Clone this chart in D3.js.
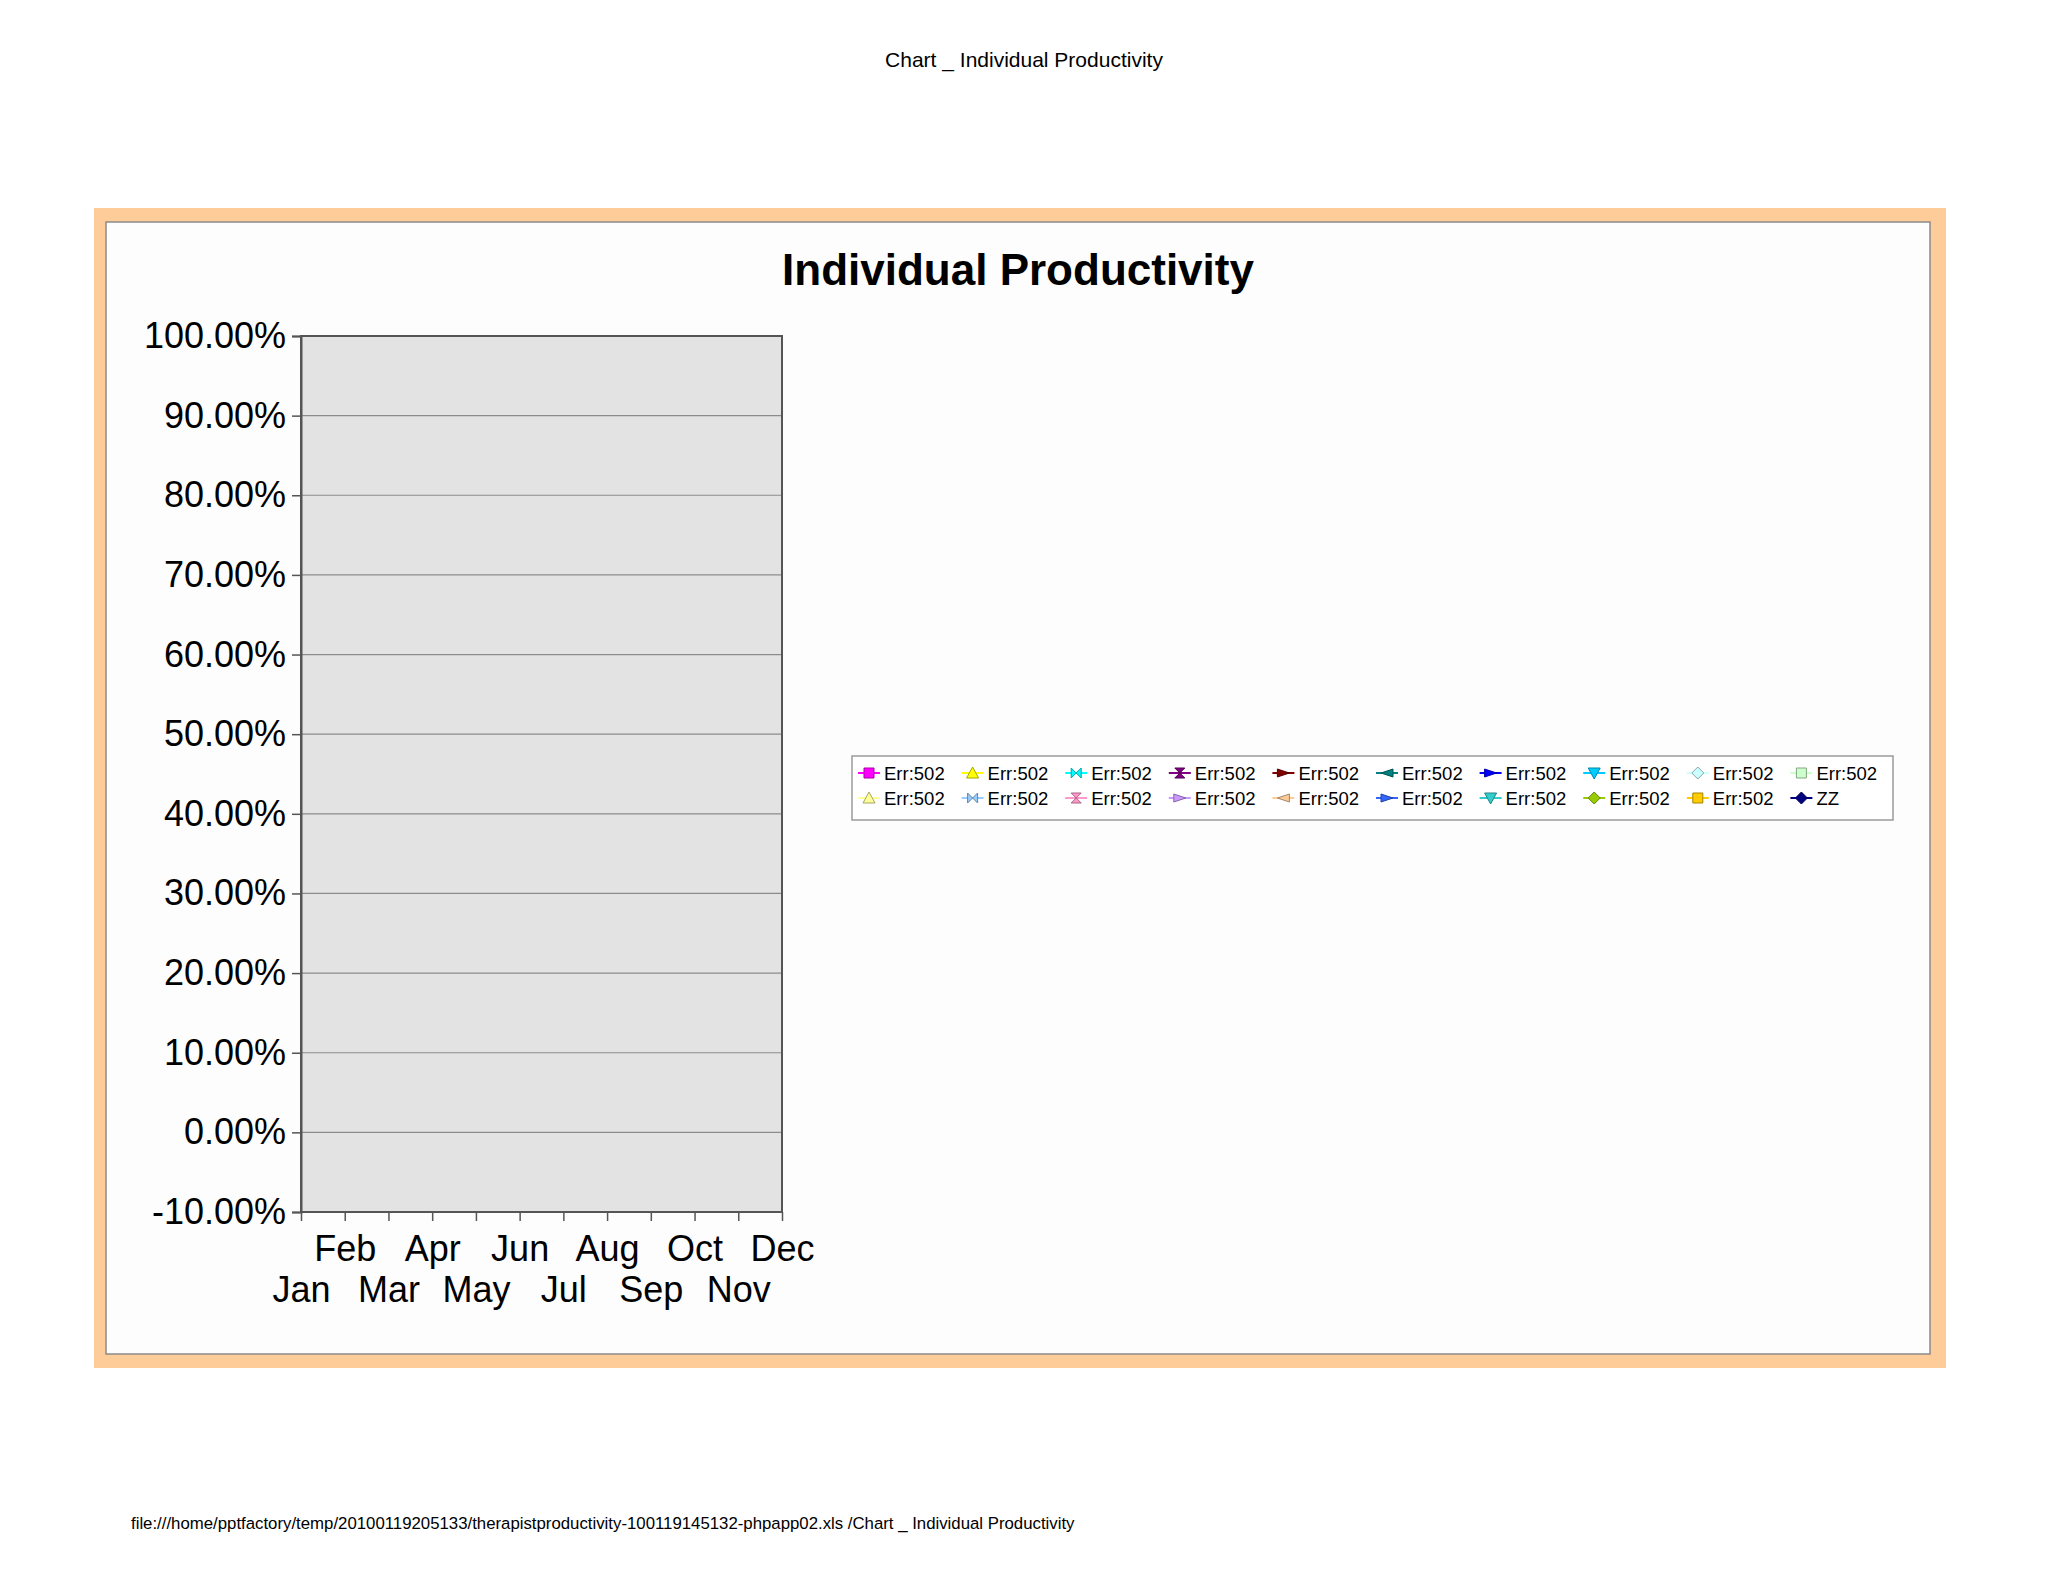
<!DOCTYPE html>
<html>
<head>
<meta charset="utf-8">
<script src="https://cdn.jsdelivr.net/npm/d3@7"></script>
<style>
  body { margin: 0; background: #fff; }
  svg { display: block; font-family: "Liberation Sans", Arial, sans-serif; }
</style>
</head>
<body>
<script>

// datos
const meses = ['Jan', 'Feb', 'Mar', 'Apr', 'May', 'Jun', 'Jul', 'Aug', 'Sep', 'Oct', 'Nov', 'Dec'];
const yTicks = [-0.1, 0, 0.1, 0.2, 0.3, 0.4, 0.5, 0.6, 0.7, 0.8, 0.9, 1.0];
const seriesNames = ['Err:502', 'Err:502', 'Err:502', 'Err:502', 'Err:502', 'Err:502', 'Err:502', 'Err:502', 'Err:502', 'Err:502',
    'Err:502', 'Err:502', 'Err:502', 'Err:502', 'Err:502', 'Err:502', 'Err:502', 'Err:502', 'Err:502', 'ZZ'];
const seriesColors = ['#ff00ff', '#ffff00', '#00ffff', '#800080', '#800000', '#008080', '#0000ff', '#00ccff', '#ccffff', '#ccffcc',
    '#ffff99', '#99ccff', '#ff99cc', '#cc99ff', '#ffcc99', '#3366ff', '#33cccc', '#99cc00', '#ffcc00', '#000080'];
const seriesMarkers = ['square', 'triUp', 'bowtie', 'hourglass', 'arrowR', 'arrowL', 'arrowR', 'triDown', 'diamond', 'square',
    'triUp', 'bowtie', 'hourglass', 'arrowR', 'arrowL', 'arrowR', 'triDown', 'diamond', 'square', 'diamond'];
// todas las series vienen vacías (Err:502)
const seriesValues = seriesNames.map(() => [null, null, null, null, null, null, null, null, null, null, null, null]);

var w = 2048, h = 1582;

var svg = d3.select('body').append('svg')
    .attr('width', w)
    .attr('height', h);

//Cabecera y pie
svg.append('text')
    .attr('x', 1024).attr('y', 67)
    .attr('text-anchor', 'middle')
    .attr('font-size', 21)
    .text('Chart _ Individual Productivity');

svg.append('text')
    .attr('x', 131).attr('y', 1529)
    .attr('font-size', 16.8)
    .text('file:///home/pptfactory/temp/20100119205133/therapistproductivity-100119145132-phpapp02.xls /Chart _ Individual Productivity');

//Marco
svg.append('rect')
    .attr('x', 94).attr('y', 208)
    .attr('width', 1852).attr('height', 1160)
    .attr('fill', '#fecc99');

svg.append('rect')
    .attr('x', 106).attr('y', 222)
    .attr('width', 1824).attr('height', 1132)
    .attr('fill', '#fcfdfc')
    .attr('stroke', '#8a8a8a')
    .attr('stroke-width', 1.5);

svg.append('text')
    .attr('x', 1018).attr('y', 285)
    .attr('text-anchor', 'middle')
    .attr('font-size', 44)
    .attr('font-weight', 'bold')
    .text('Individual Productivity');

//Escalas
const plot = { left: 301, right: 782, top: 336, bottom: 1212 };

const xScale = d3.scalePoint()
    .domain(meses)
    .range([plot.left, plot.right]);

const yScale = d3.scaleLinear()
    .domain([-0.1, 1.0])
    .range([plot.bottom, plot.top]);

svg.append('rect')
    .attr('x', plot.left).attr('y', plot.top)
    .attr('width', plot.right - plot.left)
    .attr('height', plot.bottom - plot.top)
    .attr('fill', '#e3e3e3');

//Rejilla
svg.append('g')
    .selectAll('line')
    .data(yTicks)
    .enter()
    .append('line')
    .attr('x1', plot.left).attr('x2', plot.right)
    .attr('y1', (d) => yScale(d)).attr('y2', (d) => yScale(d))
    .attr('stroke', '#8c8c8c')
    .attr('stroke-width', 1.2);

//Series (sin datos)
const linea = d3.line()
    .defined((d) => d != null)
    .x((d, i) => xScale(meses[i]))
    .y((d) => yScale(d));

svg.append('g')
    .selectAll('path')
    .data(seriesValues)
    .enter()
    .append('path')
    .attr('d', (d) => linea(d))
    .attr('fill', 'none')
    .attr('stroke', (d, i) => seriesColors[i])
    .attr('stroke-width', 2);

svg.append('rect')
    .attr('x', plot.left).attr('y', plot.top)
    .attr('width', plot.right - plot.left)
    .attr('height', plot.bottom - plot.top)
    .attr('fill', 'none')
    .attr('stroke', '#555')
    .attr('stroke-width', 2);

//Eje Y
const yAxis = d3.axisLeft(yScale)
    .tickValues(yTicks)
    .tickSize(9)
    .tickPadding(6)
    .tickFormat((d) => (d * 100).toFixed(2) + '%');

const gy = svg.append('g')
    .attr('transform', 'translate(' + plot.left + ',0)')
    .call(yAxis);
gy.select('.domain').attr('stroke', '#555').attr('stroke-width', 2);
gy.selectAll('.tick line').attr('stroke', '#555').attr('stroke-width', 1.5);
gy.selectAll('.tick text')
    .attr('font-size', 36)
    .attr('font-family', '"Liberation Sans", Arial, sans-serif')
    .attr('fill', '#000');

//Eje X
const xAxis = d3.axisBottom(xScale)
    .tickSize(9)
    .tickPadding(6);

const gx = svg.append('g')
    .attr('transform', 'translate(0,' + plot.bottom + ')')
    .call(xAxis);
gx.select('.domain').remove();
gx.selectAll('.tick line').attr('stroke', '#555').attr('stroke-width', 1.5);
gx.selectAll('.tick text')
    .attr('font-size', 36)
    .attr('font-family', '"Liberation Sans", Arial, sans-serif')
    .attr('fill', '#000')
    .attr('y', (d, i) => i % 2 == 1 ? 23 : 64);

//Leyenda
const leg = { x: 852, y: 756, w: 1041, h: 64 };

svg.append('rect')
    .attr('x', leg.x).attr('y', leg.y)
    .attr('width', leg.w).attr('height', leg.h)
    .attr('fill', '#fff')
    .attr('stroke', '#9a9a9a')
    .attr('stroke-width', 1.5);

const formas = {
    square: 'M-5,-5H5V5H-5Z',
    triUp: 'M0,-6L6,5H-6Z',
    triDown: 'M0,6L6,-5H-6Z',
    bowtie: 'M-5,-5L5,5V-5L-5,5Z',
    hourglass: 'M-5,-5H5L-5,5H5Z',
    arrowR: 'M-6,-4L6,0L-6,4Z',
    arrowL: 'M6,-4L-6,0L6,4Z',
    diamond: 'M0,-6L6,0L0,6L-6,0Z'
};

const entradas = svg.append('g')
    .selectAll('g')
    .data(seriesNames)
    .enter()
    .append('g')
    .attr('transform', (d, i) => 'translate(' + (869 + (i % 10) * 103.6) + ',' + (773 + Math.floor(i / 10) * 25) + ')');

entradas.append('line')
    .attr('x1', -11).attr('x2', 11)
    .attr('stroke', (d, i) => seriesColors[i])
    .attr('stroke-width', 2);

entradas.append('path')
    .attr('d', (d, i) => formas[seriesMarkers[i]])
    .attr('fill', (d, i) => seriesColors[i])
    .attr('stroke', (d, i) => d3.color(seriesColors[i]).darker(1.2))
    .attr('stroke-width', 1);

entradas.append('text')
    .attr('x', 15)
    .attr('y', 6.5)
    .attr('font-size', 18.5)
    .text((d) => d);

</script>
</body>
</html>
